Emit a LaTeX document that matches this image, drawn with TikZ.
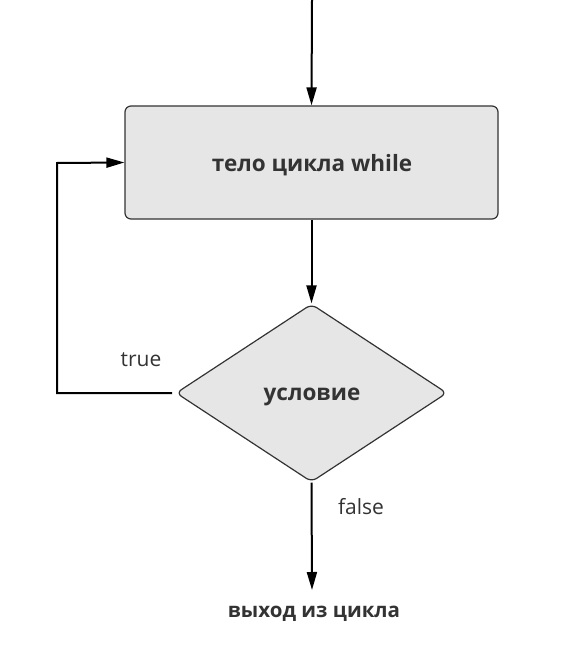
\documentclass[tikz,border=0pt]{standalone}
\usepackage{fontspec}
\setmainfont{Open Sans}
\usetikzlibrary{shapes.geometric,arrows.meta}
\definecolor{boxfill}{HTML}{E6E6E6}
\definecolor{txt}{HTML}{333333}
\tikzset{
  blockbox/.style={draw=txt, line width=1.2pt, fill=boxfill, rounded corners=6pt, minimum width=373pt, minimum height=113pt, inner sep=0pt},
  decision/.style={draw=txt, line width=1.2pt, fill=boxfill, diamond, rounded corners=6pt, minimum width=271pt, minimum height=178pt, inner sep=0pt},
  boldlabel/.style={text=txt, font=\bfseries\fontsize{22.5}{26}\selectfont},
  exitlabel/.style={text=txt, font=\bfseries\fontsize{20.5}{24}\selectfont},
  plainlabel/.style={text=txt, font=\fontsize{21}{24}\selectfont},
  flow/.style={line width=2pt, -{Triangle[length=18pt,width=10pt]}},
}
\begin{document}
\begin{tikzpicture}[x=1pt,y=-1pt]
\useasboundingbox (0,0) rectangle (581,650);
\coordinate (start) at (312,0);
\node[blockbox] (body) at (311.5,162.5) {};
\node[boldlabel] (bodytxt) at (312,165) {тело цикла while};
\node[decision] (cond) at (311.5,393) {};
\node[boldlabel] (condtxt) at (312,397) {условие};
\coordinate (loopA) at (57,393);
\coordinate (loopB) at (57,163);
\coordinate (condL) at (172,393);
\coordinate (endpt) at (312,590);
\node[exitlabel] (exit) at (314,614) {выход из цикла};
\node[plainlabel] (truel) at (141,360) {true};
\node[plainlabel] (falsel) at (361,507) {false};
\draw[flow] (start) -- (body.north);
\draw[flow] (body.south) -- (cond.north);
\draw[flow] (condL) -- (loopA) -- (loopB) -- (body.west);
\draw[flow] (cond.south) -- (endpt);
\end{tikzpicture}
\end{document}
